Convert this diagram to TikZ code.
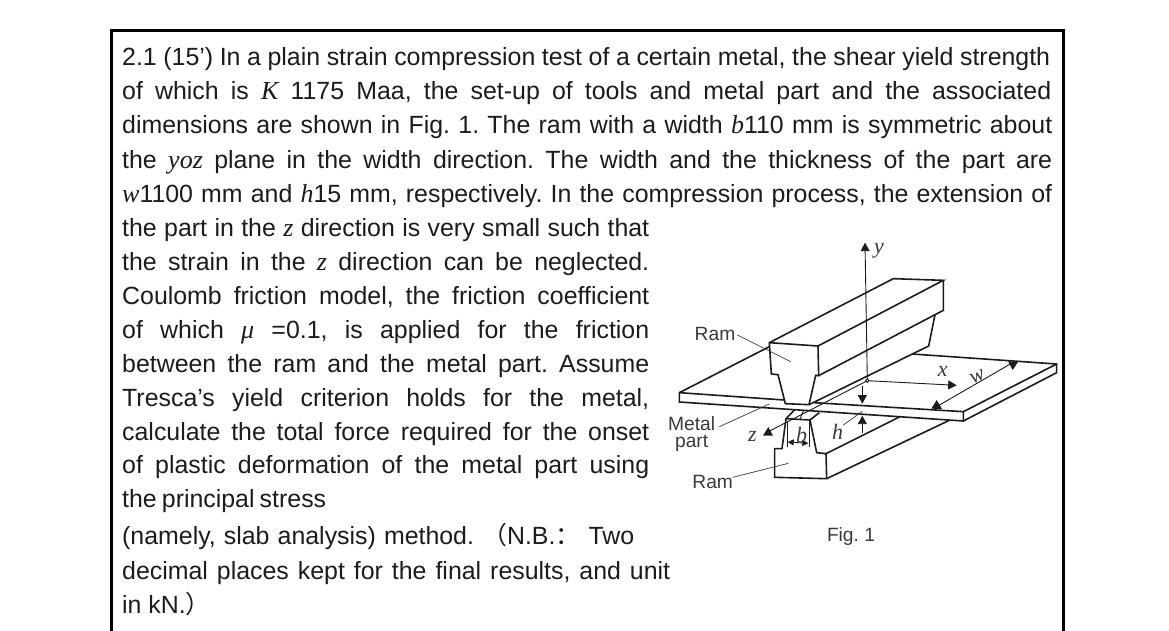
\documentclass[tikz,border=0pt]{standalone}
\usepackage{fontspec}
\setmainfont{Liberation Sans}
\newfontfamily\serifit{Liberation Serif}
\newfontfamily\cjkf{Noto Sans CJK SC}
\newcommand{\vv}[1]{{\serifit\itshape\fontsize{26}{30}\selectfont #1}}
\usetikzlibrary{arrows.meta}
\definecolor{ink}{HTML}{1C1C1C}
\definecolor{figtext}{HTML}{3A3A3A}
\tikzset{
  linetext/.style={anchor=base west,inner sep=0pt,text=ink,font=\fontsize{24.9}{30}\selectfont\frenchspacing},
  framerule/.style={line width=3pt,color=black},
  edge3d/.style={line width=1.6pt,color=ink,line join=miter},
  thinline/.style={line width=0.9pt,color=ink},
  leader/.style={line width=0.7pt,color=figtext},
  dim/.style={line width=0.9pt,color=ink,-{Triangle[width=9pt,length=8.5pt]}},
  dimb/.style={line width=0.9pt,color=ink,{Triangle[width=6pt,length=6pt]}-{Triangle[width=6pt,length=6pt]}},
  figlabel/.style={inner sep=0pt,text=figtext,font=\fontsize{19.2}{20}\selectfont\frenchspacing},
  axlabel/.style={inner sep=0pt,text=figtext,font=\fontsize{22}{22}\serifit\itshape}
}
\begin{document}
\begin{tikzpicture}[x=1pt,y=-1pt]
\useasboundingbox (0,0) rectangle (1169,631);
\fill[white] (0,0) rectangle (1169,631);
\draw[framerule] (111,631) -- (111,30.5) -- (1063,30.5) -- (1063,631);
% text
\node[linetext] (l1) at (122,66) {\makebox[928pt][s]{2.1 (15’) In a plain strain compression test of a certain metal, the shear yield strength}};
\node[linetext] (l2) at (122,100) {\makebox[929pt][s]{of which is \vv{K} 1175 Maa, the set-up of tools and metal part and the associated}};
\node[linetext] (l3) at (122,134) {\makebox[930pt][s]{dimensions are shown in Fig. 1. The ram with a width \vv{b}110 mm is symmetric about}};
\node[linetext] (l4) at (122,168) {\makebox[930pt][s]{the \vv{yoz} plane in the width direction. The width and the thickness of the part are}};
\node[linetext] (l5) at (122,202) {\makebox[930pt][s]{\vv{w}1100 mm and \vv{h}15 mm, respectively. In the compression process, the extension of}};
\node[linetext] (l6) at (122,236) {\makebox[527pt][s]{the part in the \vv{z} direction is very small such that}};
\node[linetext] (l7) at (122,270.5) {\makebox[527pt][s]{the strain in the \vv{z} direction can be neglected.}};
\node[linetext] (l8) at (122,304.5) {\makebox[527pt][s]{Coulomb friction model, the friction coefficient}};
\node[linetext] (l9) at (122,338.5) {\makebox[527pt][s]{of which \vv{μ} =0.1, is applied for the friction}};
\node[linetext] (l10) at (122,372.5) {\makebox[527pt][s]{between the ram and the metal part. Assume}};
\node[linetext] (l11) at (122,406.5) {\makebox[527pt][s]{Tresca’s yield criterion holds for the metal,}};
\node[linetext] (l12) at (122,440) {\makebox[527pt][s]{calculate the total force required for the onset}};
\node[linetext] (l13) at (122,473.5) {\makebox[527pt][s]{of plastic deformation of the metal part using}};
\node[linetext] (l14) at (122,507) {\makebox[204pt][s]{the principal stress}};
\node[linetext] (l15) at (122,544) {\makebox[512pt][s]{(namely, slab analysis) method. {\cjkf （}N.B.{\cjkf ：} Two}};
\node[linetext] (l16) at (122,579) {\makebox[548pt][s]{decimal places kept for the final results, and unit}};
\node[linetext] (l17) at (122,613) {in kN.{\cjkf ）}};
\node[figlabel] (fig) at (851,537) {Fig. 1};
% figure, coordinates in 3x crop pixels
\begin{scope}[shift={(660,230)},x=0.33333pt,y=-0.33333pt]
% plate
\draw[edge3d] (328,350) -- (58,488) -- (58,516) -- (910,573) -- (910,545) -- (462,518);
\draw[edge3d] (58,488) -- (372,510);
\draw[edge3d] (910,545) -- (1190,402) -- (1190,428) -- (910,573);
\draw[edge3d] (756,372) -- (1190,402);
% upper ram
\draw[edge3d] (328,338) -- (334,432) -- (354,434) -- (376,521) -- (447,524) -- (467,436) -- (476,437) -- (474,348) -- cycle;
\draw[edge3d] (328,338) -- (700,146) -- (850,151) -- (474,348);
\draw[edge3d] (850,151) -- (850,241) -- (476,437);
\draw[edge3d] (825,254) -- (806,348) -- (447,524);
% lower ram
\draw[edge3d] (378,566) -- (366,656) -- (344,656) -- (344,742) -- (500,746) -- (498,671) -- (470,668) -- (450,570) -- cycle;
\draw[edge3d] (498,671) -- (720,560);
\draw[edge3d] (500,746) -- (868,571);
\draw[edge3d] (378,566) -- (403,540);
\draw[edge3d] (450,570) -- (478,548);
\draw[thinline] (430,543) -- (420,567);
% axes
\coordinate (o) at (622,452);
\coordinate (ytip) at (615,38);
\coordinate (xtip) at (890,466);
\coordinate (zend) at (325,605);
\draw[dim] (o) -- (ytip);
\draw[dim] (o) -- (xtip);
\draw[thinline] (o) -- (zend);
\fill[ink] (325,591) -- (339,617) -- (309,617) -- cycle;
\draw[thinline,fill=white] (o) circle (5);
% w
\coordinate (w1) at (830,530);
\coordinate (w2) at (1058,398);
\draw[thinline] (w1) -- (w2);
\fill[ink] (830,510) -- (846,537) -- (814,536) -- cycle;
\fill[ink] (1058,420) -- (1044,394) -- (1074,396) -- cycle;
% h
\coordinate (ha) at (607,468);
\coordinate (hb) at (607,521);
\coordinate (hc) at (607,610);
\coordinate (hd) at (607,557);
\draw[dim] (ha) -- (hb);
\draw[dim] (hc) -- (hd);
\draw[leader] (607,544) -- (550,585);
% b
\coordinate (bl) at (383,636);
\coordinate (br) at (445,640);
\draw[dimb] (bl) -- (br);
\draw[thinline] (381,572) -- (381,650);
\draw[thinline] (449,572) -- (449,650);
% labels
\node[figlabel] (ram1) at (165,312) {Ram};
\coordinate (ram1p) at (392,395);
\draw[leader] (232,315) -- (ram1p);
\node[figlabel] (metal) at (95,580) {Metal};
\node[figlabel] (part) at (95,641) {part};
\coordinate (metalp) at (328,522);
\draw[leader] (178,590) -- (metalp);
\node[figlabel] (ram2) at (158,755) {Ram};
\coordinate (ram2p) at (385,700);
\draw[leader] (218,742) -- (ram2p);
\node[axlabel] (ylab) at (657,62) {y};
\node[axlabel] (xlab) at (848,425) {x};
\node[axlabel,rotate=25] (wlab) at (952,440) {w};
\node[axlabel] (zlab) at (277,620) {z};
\node[axlabel] (hlab) at (533,605) {h};
\node[axlabel] (blab) at (425,615) {b};
\end{scope}
\end{tikzpicture}
\end{document}
